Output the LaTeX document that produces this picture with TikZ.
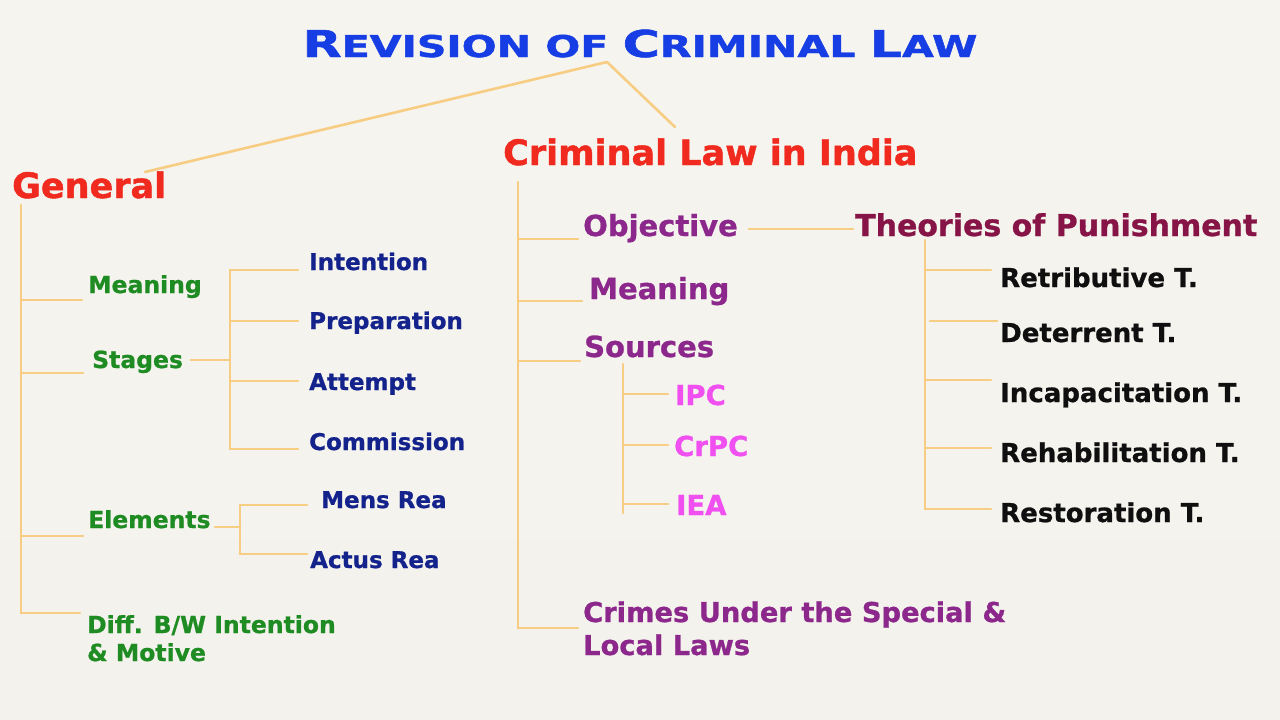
\documentclass[tikz,border=0pt]{standalone}
\usepackage{fontspec}
\usepackage{graphicx}
\newfontfamily\vfont{DejaVu Sans}[BoldFeatures={FakeBold=0.9}]
\newfontfamily\rfont{DejaVu Sans}[BoldFeatures={FakeBold=1.3}]
\newcommand\tbig[1]{{\fontsize{37}{37}\selectfont #1}}
\newcommand\tsmall[1]{{\fontsize{30}{30}\selectfont #1}}
\definecolor{linec}{RGB}{246,205,130}
\definecolor{bgtop}{RGB}{246,244,239}
\definecolor{bgmid}{RGB}{233,231,227}
\definecolor{bgbot}{RGB}{244,242,236}
\definecolor{titlec}{RGB}{22,62,228}
\definecolor{redc}{RGB}{240,42,30}
\definecolor{greenc}{RGB}{30,140,35}
\definecolor{navyc}{RGB}{20,35,140}
\definecolor{purplec}{RGB}{140,40,140}
\definecolor{maroonc}{RGB}{135,20,70}
\definecolor{magentac}{RGB}{240,80,240}
\definecolor{blackc}{RGB}{15,15,15}
\tikzset{
  tl/.style={draw=linec, line width=2.6pt, line cap=round},
  lab/.style={anchor=base west, inner sep=0pt},
  redlab/.style={lab, text=redc, font=\rfont\bfseries\fontsize{35}{36}\selectfont},
  greenlab/.style={lab, text=greenc, font=\vfont\bfseries\fontsize{23.5}{28}\selectfont, align=left},
  navylab/.style={lab, text=navyc, font=\vfont\bfseries\fontsize{23}{28}\selectfont},
  purplelab/.style={lab, text=purplec, font=\vfont\bfseries\fontsize{29}{30}\selectfont, align=left},
  maroonlab/.style={lab, text=maroonc, font=\vfont\bfseries\fontsize{30}{30}\selectfont},
  magentalab/.style={lab, text=magentac, font=\vfont\bfseries\fontsize{27.5}{28}\selectfont},
  blacklab/.style={lab, text=blackc, font=\vfont\bfseries\fontsize{26}{28}\selectfont},
}
\begin{document}
\begin{tikzpicture}[x=1pt,y=-1pt]
\begin{scope}[y=1pt]
\shade[top color=bgtop, middle color=bgmid, bottom color=bgbot] (0,-720) rectangle (1280,0);
\end{scope}
\useasboundingbox (0,0) rectangle (1280,720);

% title
\node[anchor=base, inner sep=0pt, text=titlec] (title) at (640,57)
  {\scalebox{1.37}[1]{\rfont\bfseries\fontsize{30}{30}\selectfont\tbig{R}\tsmall{EVISION OF} \tbig{C}\tsmall{RIMINAL} \tbig{L}\tsmall{AW}}};

% main headings
\node[redlab] (gen) at (12,198) {General};
\node[redlab] (cli) at (503,165) {Criminal Law in India};

\coordinate (tp) at (607,62);
\coordinate (gE) at (145,172);
\coordinate (cE) at (675,127);
\draw[tl] (tp) -- (gE);
\draw[tl] (tp) -- (cE);

% ---------- General branch ----------
\node[greenlab] (mean) at (88,293) {Meaning};
\node[greenlab] (stag) at (92,368) {Stages};
\node[greenlab] (elem) at (88,528) {Elements};
\node[greenlab] (diff) at (87,661) {Diff. B/W Intention\\[0pt]\& Motive};

\coordinate (gT) at (21,205);
\coordinate (gB) at (21,613);
\coordinate (g1) at (21,300);
\coordinate (g2) at (21,373);
\coordinate (g3) at (21,536);
\coordinate (g1e) at (82,300);
\coordinate (g2e) at (83,373);
\coordinate (g3e) at (83,536);
\coordinate (g4e) at (80,613);
\draw[tl] (gT) -- (gB);
\draw[tl] (g1) -- (g1e);
\draw[tl] (g2) -- (g2e);
\draw[tl] (g3) -- (g3e);
\draw[tl] (gB) -- (g4e);

% stages
\node[navylab] (inte) at (309,270) {Intention};
\node[navylab] (prep) at (309,329) {Preparation};
\node[navylab] (atte) at (309,390) {Attempt};
\node[navylab] (comm) at (309,450) {Commission};
\coordinate (sS) at (191,360);
\coordinate (sJ) at (230,360);
\coordinate (sT) at (230,270);
\coordinate (sB) at (230,449);
\coordinate (s1) at (230,321);
\coordinate (s2) at (230,381);
\coordinate (s0e) at (298,270);
\coordinate (s1e) at (298,321);
\coordinate (s2e) at (298,381);
\coordinate (s3e) at (298,449);
\draw[tl] (sS) -- (sJ);
\draw[tl] (sT) -- (sB);
\draw[tl] (sT) -- (s0e);
\draw[tl] (s1) -- (s1e);
\draw[tl] (s2) -- (s2e);
\draw[tl] (sB) -- (s3e);

% elements
\node[navylab] (mens) at (321,508) {Mens Rea};
\node[navylab] (actu) at (310,568) {Actus Rea};
\coordinate (eS) at (215,527);
\coordinate (eJ) at (240,527);
\coordinate (eT) at (240,505);
\coordinate (eB) at (240,554);
\coordinate (eTe) at (307,505);
\coordinate (eBe) at (307,554);
\draw[tl] (eS) -- (eJ);
\draw[tl] (eT) -- (eB);
\draw[tl] (eT) -- (eTe);
\draw[tl] (eB) -- (eBe);

% ---------- Criminal Law in India branch ----------
\node[purplelab] (obj) at (583,236) {Objective};
\node[purplelab] (mea2) at (589,299) {Meaning};
\node[purplelab] (sour) at (584,357) {Sources};
\node[purplelab, font=\vfont\bfseries\fontsize{27.3}{33}\selectfont] (crim) at (583,655) {Crimes Under the Special \&\\[0pt]Local Laws};

\coordinate (cT) at (518,182);
\coordinate (cB) at (518,628);
\coordinate (c1) at (518,239);
\coordinate (c2) at (518,301);
\coordinate (c3) at (518,361);
\coordinate (c1e) at (578,239);
\coordinate (c2e) at (582,301);
\coordinate (c3e) at (580,361);
\coordinate (c4e) at (578,628);
\draw[tl] (cT) -- (cB);
\draw[tl] (c1) -- (c1e);
\draw[tl] (c2) -- (c2e);
\draw[tl] (c3) -- (c3e);
\draw[tl] (cB) -- (c4e);

% sources
\node[magentalab] (ipc) at (675,405) {IPC};
\node[magentalab] (crpc) at (674,456) {CrPC};
\node[magentalab] (iea) at (676,515) {IEA};
\coordinate (rT) at (623,364);
\coordinate (rB) at (623,513);
\coordinate (r1) at (623,394);
\coordinate (r2) at (623,445);
\coordinate (r3) at (623,504);
\coordinate (r1e) at (668,394);
\coordinate (r2e) at (668,445);
\coordinate (r3e) at (668,504);
\draw[tl] (rT) -- (rB);
\draw[tl] (r1) -- (r1e);
\draw[tl] (r2) -- (r2e);
\draw[tl] (r3) -- (r3e);

% theories
\node[maroonlab] (theo) at (855,236) {Theories of Punishment};
\coordinate (oS) at (749,229);
\coordinate (oE) at (853,229);
\draw[tl] (oS) -- (oE);

\node[blacklab] (ret) at (1000,287) {Retributive T.};
\node[blacklab] (det) at (1000,342) {Deterrent T.};
\node[blacklab] (inc) at (1000,402) {Incapacitation T.};
\node[blacklab] (reh) at (1000,462) {Rehabilitation T.};
\node[blacklab] (res) at (1000,522) {Restoration T.};
\coordinate (tT) at (925,240);
\coordinate (tB) at (925,509);
\coordinate (t1) at (925,270);
\coordinate (t2) at (930,321);
\coordinate (t3) at (925,380);
\coordinate (t4) at (925,448);
\coordinate (t1e) at (991,270);
\coordinate (t2e) at (997,321);
\coordinate (t3e) at (991,380);
\coordinate (t4e) at (991,448);
\coordinate (t5e) at (991,509);
\draw[tl] (tT) -- (tB);
\draw[tl] (t1) -- (t1e);
\draw[tl] (t2) -- (t2e);
\draw[tl] (t3) -- (t3e);
\draw[tl] (t4) -- (t4e);
\draw[tl] (tB) -- (t5e);
\end{tikzpicture}
\end{document}
